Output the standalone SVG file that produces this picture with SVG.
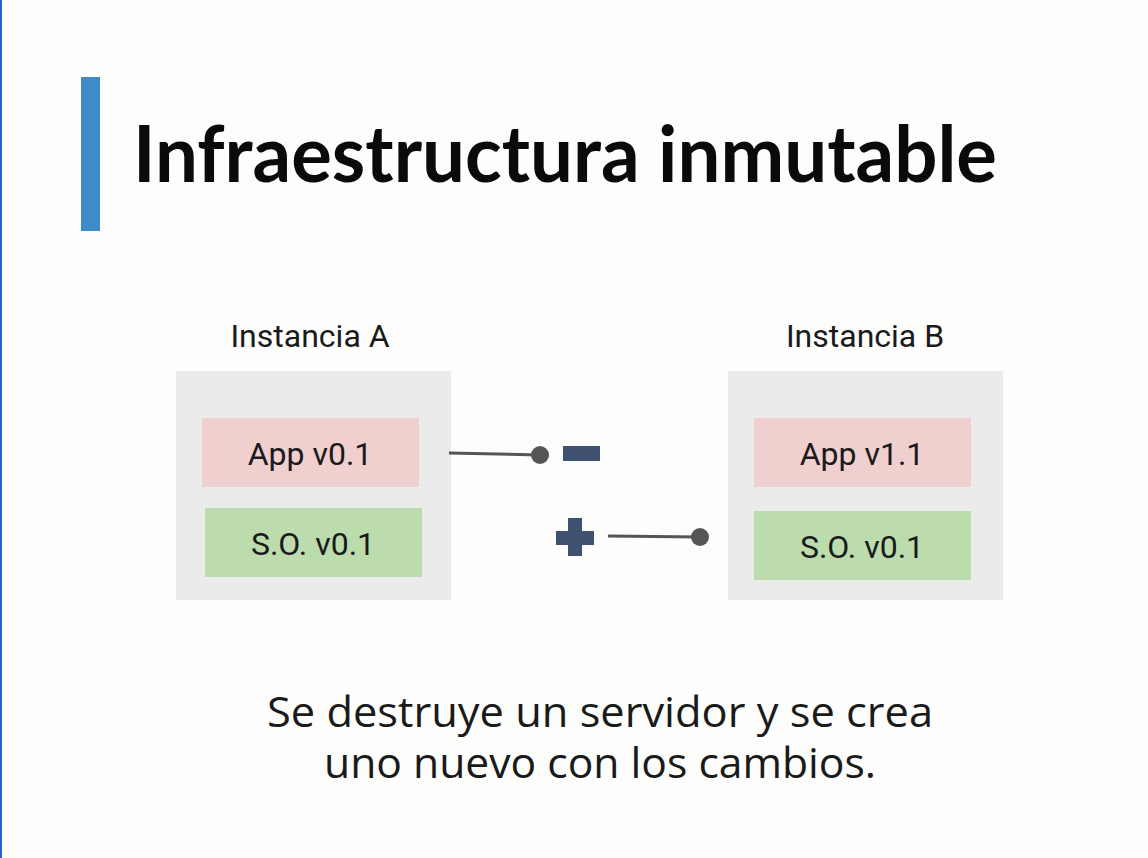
<svg xmlns="http://www.w3.org/2000/svg" width="1148" height="858" viewBox="0 0 1148 858">
<style>
.lbl{font-family:Roboto,"Liberation Sans",sans-serif;font-size:32px;fill:#1a1a1a;text-anchor:middle}
.bg{fill:#ebebeb}.app{fill:#f0cfcf}.so{fill:#bcdcae}
.ln{stroke:#555;stroke-width:3;fill:none}
.dot{fill:#555}
.sym{fill:#3f5170}
.cap{font-family:"Open Sans","Liberation Sans",sans-serif;font-size:42px;fill:#1a1a1a;text-anchor:middle}
</style>
<rect width="1148" height="858" fill="#fdfdfc"/>
<rect x="0" y="0" width="2" height="858" fill="#2b5fd0"/>
<rect x="81" y="77" width="19" height="154" fill="#3d8cc9"/>
<text x="133" y="182" font-family="Lato,'Liberation Sans',sans-serif" font-weight="bold" font-size="79" fill="#0a0a0a" textLength="864" lengthAdjust="spacingAndGlyphs">Infraestructura inmutable</text>
<g id="instA">
<text class="lbl" x="310" y="347">Instancia A</text>
<rect class="bg" x="176" y="371" width="275" height="229"/>
</g>
<g id="appA"><rect class="app" x="202" y="418" width="217" height="69"/><text class="lbl" x="310" y="465">App v0.1</text></g>
<g id="soA"><rect class="so" x="205" y="508" width="217" height="69"/><text class="lbl" x="313" y="555">S.O. v0.1</text></g>
<g id="instB">
<text class="lbl" x="865" y="347">Instancia B</text>
<rect class="bg" x="728" y="371" width="275" height="229"/>
</g>
<g id="appB"><rect class="app" x="754" y="418" width="217" height="69"/><text class="lbl" x="862" y="465">App v1.1</text></g>
<g id="soB"><rect class="so" x="754" y="511" width="217" height="69"/><text class="lbl" x="862" y="558">S.O. v0.1</text></g>
<g id="connectors">
<line class="ln" x1="449" y1="453" x2="540" y2="455"/>
<circle class="dot" cx="540" cy="455" r="9"/>
<rect class="sym" x="563" y="446" width="37" height="15"/>
<path class="sym" d="M568 518h14v13h12v14h-12v11h-14v-11h-12v-14h12z"/>
<line class="ln" x1="608" y1="536" x2="700" y2="537"/>
<circle class="dot" cx="700" cy="537" r="9"/>
</g>
<text class="cap" x="600" y="727" textLength="666" lengthAdjust="spacingAndGlyphs">Se destruye un servidor y se crea</text>
<text class="cap" x="600" y="778" textLength="552" lengthAdjust="spacingAndGlyphs">uno nuevo con los cambios.</text>
</svg>
